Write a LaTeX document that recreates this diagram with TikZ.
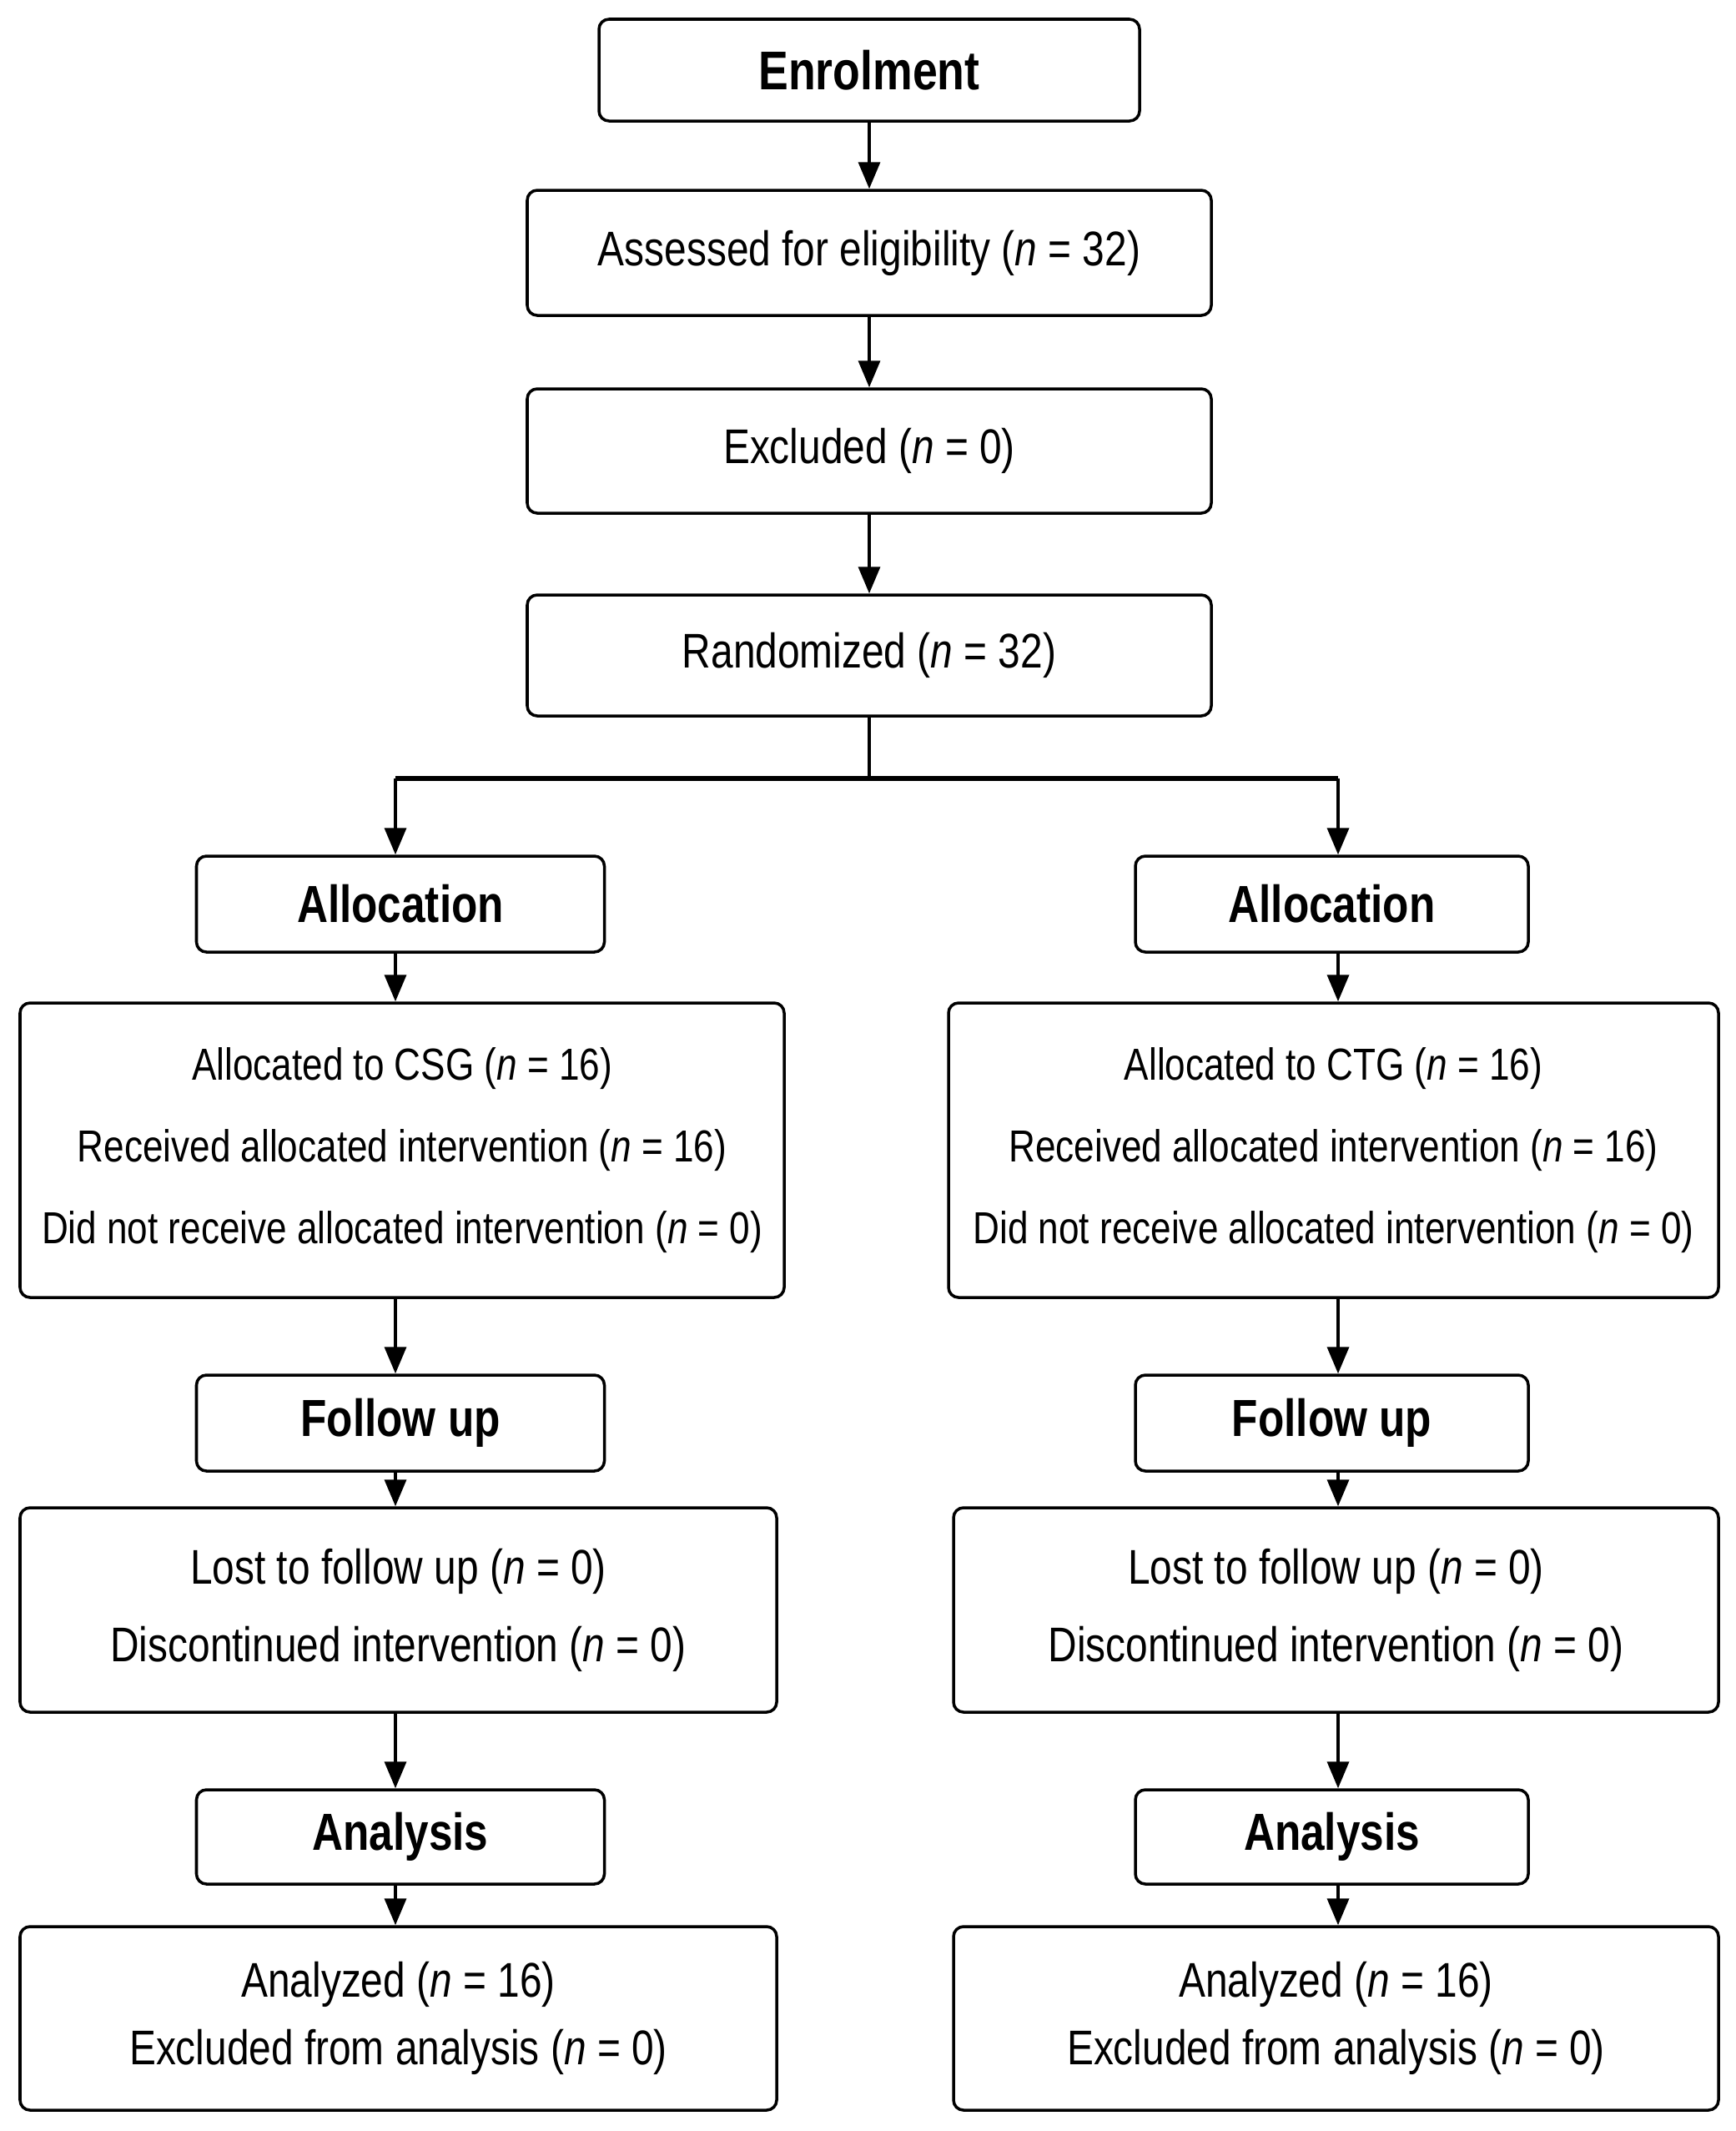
\documentclass[tikz,border=0pt]{standalone}
\usepackage{fontspec}
\setmainfont{Liberation Sans}[FakeStretch=0.82]
\usetikzlibrary{arrows.meta}
\begin{document}
\begin{tikzpicture}[>={Triangle[length=3.2mm,width=2.6mm]},line width=1pt,
	  box/.style={draw,line width=1pt,rounded corners=1.2mm,align=center,inner sep=0pt},
	  head/.style={box,minimum width=4.89cm,minimum height=1.15cm,font=\fontsize{17.8}{20}\selectfont\bfseries},
	  txt/.style={box,font=\fontsize{16.6}{20}\selectfont}]
	  \useasboundingbox (0,0) rectangle (20.81,-25.54);
	  \node[head,minimum width=6.48cm,minimum height=1.22cm,font=\fontsize{18.6}{20}\selectfont\bfseries] (enrol) at (10.42,-0.84) {Enrolment};
	  \node[txt,minimum width=8.2cm,minimum height=1.5cm] (assess) at (10.42,-3.03) {Assessed for eligibility (\textit{n} = 32)};
	  \node[txt,minimum width=8.2cm,minimum height=1.49cm] (excl) at (10.42,-5.405) {Excluded (\textit{n} = 0)};
	  \node[txt,minimum width=8.2cm,minimum height=1.45cm] (rand) at (10.42,-7.855) {Randomized (\textit{n} = 32)};
	  \coordinate (split) at (10.42,-9.33);
	  \node[head] (allocL) at (4.80,-10.835) {Allocation};
	  \node[head,minimum width=4.71cm] (allocR) at (15.965,-10.835) {Allocation};
	  \node[txt,minimum width=9.16cm,minimum height=3.53cm,font=\fontsize{15.3}{28}\selectfont] (csg) at (4.82,-13.785)
	    {Allocated to CSG (\textit{n} = 16)\\Received allocated intervention (\textit{n} = 16)\\Did not receive allocated intervention (\textit{n} = 0)};
	  \node[txt,minimum width=9.23cm,minimum height=3.53cm,font=\fontsize{15.3}{28}\selectfont] (ctg) at (15.985,-13.785)
	    {Allocated to CTG (\textit{n} = 16)\\Received allocated intervention (\textit{n} = 16)\\Did not receive allocated intervention (\textit{n} = 0)};
	  \node[head] (followL) at (4.80,-17.055) {Follow up};
	  \node[head,minimum width=4.71cm] (followR) at (15.965,-17.055) {Follow up};
	  \node[txt,minimum width=9.07cm,minimum height=2.45cm,font=\fontsize{16.6}{26.4}\selectfont] (lostL) at (4.775,-19.295)
	    {Lost to follow up (\textit{n} = 0)\\Discontinued intervention (\textit{n} = 0)};
	  \node[txt,minimum width=9.17cm,minimum height=2.45cm,font=\fontsize{16.6}{26.4}\selectfont] (lostR) at (16.015,-19.295)
	    {Lost to follow up (\textit{n} = 0)\\Discontinued intervention (\textit{n} = 0)};
	  \node[head,minimum height=1.13cm] (analysisL) at (4.80,-22.015) {Analysis};
	  \node[head,minimum width=4.71cm,minimum height=1.13cm] (analysisR) at (15.965,-22.015) {Analysis};
	  \node[txt,minimum width=9.07cm,minimum height=2.2cm,font=\fontsize{16.6}{23}\selectfont] (anaL) at (4.775,-24.19)
	    {Analyzed (\textit{n} = 16)\\Excluded from analysis (\textit{n} = 0)};
	  \node[txt,minimum width=9.17cm,minimum height=2.2cm,font=\fontsize{16.6}{23}\selectfont] (anaR) at (16.015,-24.19)
	    {Analyzed (\textit{n} = 16)\\Excluded from analysis (\textit{n} = 0)};
	  \coordinate (splitL) at (4.74,-9.33);
	  \coordinate (splitR) at (16.04,-9.33);
	  \draw[->] (enrol) -- (assess);
	  \draw[->] (assess) -- (excl);
	  \draw[->] (excl) -- (rand);
	  \draw (rand) -- (split);
	  \draw[line width=1.6pt] (splitL) -- (splitR);
	  \draw[->] (splitL) -- (splitL |- allocL.north);
	  \draw[->] (splitR) -- (splitR |- allocR.north);
	  \draw[->] (splitL |- allocL.south) -- (splitL |- csg.north);
	  \draw[->] (splitR |- allocR.south) -- (splitR |- ctg.north);
	  \draw[->] (splitL |- csg.south) -- (splitL |- followL.north);
	  \draw[->] (splitR |- ctg.south) -- (splitR |- followR.north);
	  \draw[->] (splitL |- followL.south) -- (splitL |- lostL.north);
	  \draw[->] (splitR |- followR.south) -- (splitR |- lostR.north);
	  \draw[->] (splitL |- lostL.south) -- (splitL |- analysisL.north);
	  \draw[->] (splitR |- lostR.south) -- (splitR |- analysisR.north);
	  \draw[->] (splitL |- analysisL.south) -- (splitL |- anaL.north);
	  \draw[->] (splitR |- analysisR.south) -- (splitR |- anaR.north);
	\end{tikzpicture}
\end{document}
